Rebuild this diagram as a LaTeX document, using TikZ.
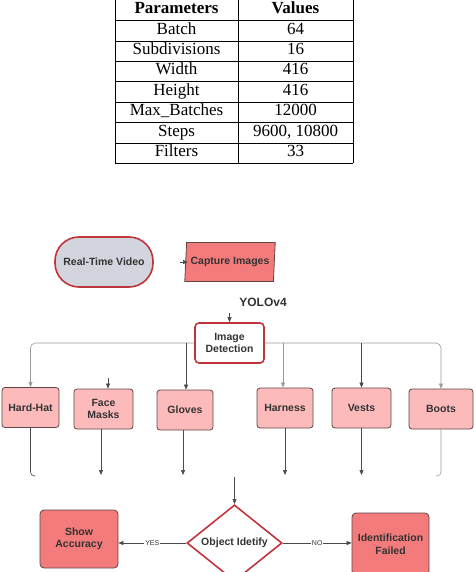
\documentclass[tikz,border=0pt]{standalone}
\usepackage{fontspec}
\setmainfont{Liberation Serif}
\setsansfont{Liberation Sans}
\usetikzlibrary{shapes.geometric,arrows.meta,backgrounds}
\definecolor{redborder}{HTML}{C0343C}
\definecolor{videofill}{HTML}{D2D5DD}
\definecolor{salmon}{HTML}{F47B7B}
\definecolor{pinkfill}{HTML}{FDBABB}
\definecolor{darkborder}{HTML}{5E4646}
\definecolor{textcol}{HTML}{333333}
\definecolor{busgray}{HTML}{9A9A9A}
\definecolor{arrowgray}{HTML}{4A4A4A}
\tikzset{
  tabtext/.style={anchor=base, font=\fontsize{17}{17}\selectfont, inner sep=0pt},
  tabhead/.style={tabtext, font=\fontsize{17}{17}\selectfont\bfseries},
  flowtext/.style={font=\sffamily\bfseries\fontsize{10.5}{12.5}\selectfont, text=textcol, align=center},
  itembox/.style={flowtext, draw=darkborder, line width=0.8pt, fill=pinkfill, rounded corners=3pt, minimum height=40pt, inner sep=1pt},
  resultbox/.style={flowtext, draw=darkborder, line width=0.8pt, fill=salmon, rounded corners=4pt, inner sep=1pt},
  arr/.style={draw=arrowgray, line width=0.6pt, -{Triangle[length=5pt,width=4pt]}},
  busline/.style={draw=busgray, line width=0.6pt},
  lbl/.style={font=\sffamily\fontsize{7}{7}\selectfont, text=textcol, fill=white, inner sep=1pt}
}
\begin{document}
\begin{tikzpicture}[x=1pt,y=-1pt]
\useasboundingbox (0,0) rectangle (474,572);
% ---------------- table ----------------
\foreach \yy in {20,41,61,81,102,122,143,163} \draw[line width=0.8pt] (115,\yy) -- (353,\yy);
\foreach \xx in {115,238,353} \draw[line width=0.8pt] (\xx,0) -- (\xx,163);
\node[tabhead] (h1) at (176.5,14) {Parameters};
\node[tabhead] (h2) at (295.5,14) {Values};
\node[tabtext] (p1) at (176.5,35) {Batch};
\node[tabtext] (v1) at (295.5,35) {64};
\node[tabtext] (p2) at (176.5,55) {Subdivisions};
\node[tabtext] (v2) at (295.5,55) {16};
\node[tabtext] (p3) at (176.5,75) {Width};
\node[tabtext] (v3) at (295.5,75) {416};
\node[tabtext] (p4) at (176.5,96) {Height};
\node[tabtext] (v4) at (295.5,96) {416};
\node[tabtext] (p5) at (176.5,116) {Max\_Batches};
\node[tabtext] (v5) at (295.5,116) {12000};
\node[tabtext] (p6) at (176.5,137) {Steps};
\node[tabtext] (v6) at (295.5,137) {9600, 10800};
\node[tabtext] (p7) at (176.5,157) {Filters};
\node[tabtext] (v7) at (295.5,157) {33};
% ---------------- flowchart ----------------
\node[flowtext, draw=redborder, line width=1.6pt, fill=videofill, rounded corners=24pt, minimum width=98pt, minimum height=50pt] (rtv) at (104,262) {Real-Time Video};
\node[flowtext, draw=darkborder, line width=0.8pt, fill=salmon, trapezium, trapezium left angle=80, trapezium right angle=100, trapezium stretches=true, minimum width=91pt, minimum height=39pt, inner sep=0pt] (cap) at (230,262) {Capture Images};
\coordinate (capin) at (180,262);
\draw[arr] (capin) -- (188,262);
\node[font=\sffamily\bfseries\fontsize{12}{12}\selectfont, text=textcol] (yolo) at (263,302) {YOLOv4};
\node[flowtext, draw=redborder, line width=1.6pt, fill=white, rounded corners=4pt, minimum width=69pt, minimum height=40pt, inner sep=1pt] (det) at (229.5,343) {Image\\Detection};
\coordinate (detin) at (229.5,313);
\draw[arr] (detin) -- (det.north);

\node[itembox, minimum width=57pt] (hh) at (30.5,407.5) {Hard-Hat};
\node[itembox, minimum width=59pt] (fm) at (103.5,409) {Face\\Masks};
\node[itembox, minimum width=56pt] (gl) at (185,410) {Gloves};
\node[itembox, minimum width=56pt] (hn) at (285,408) {Harness};
\node[itembox, minimum width=59pt] (vs) at (361.5,408) {Vests};
\node[itembox, minimum width=64pt] (bt) at (441,409) {Boots};

\begin{pgfonlayer}{background}
\draw[busline, rounded corners=5pt, {Triangle[length=5pt,width=4pt]}-{Triangle[length=5pt,width=4pt]}] (hh.north) |- (det.center) -| (bt.north);
\end{pgfonlayer}
\draw[arr] ([xshift=1pt]gl.north |- det.center) -- ([xshift=1pt]gl.north);
\draw[arr, draw=busgray] ([xshift=-2pt]hn.north |- det.center) -- ([xshift=-2pt]hn.north);
\draw[arr] (vs.north |- det.center) -- (vs.north);
\coordinate (fmin) at (108,378);
\draw[arr] (fmin) -- (fmin |- fm.north);

% bottom
\coordinate (hhend) at (35,476);
\draw[busline, draw=arrowgray, rounded corners=4pt] (hh.south) |- (hhend);
\coordinate (btend) at (436,476);
\draw[busline, rounded corners=4pt] (bt.south) |- (btend);
\draw[arr] ([xshift=-2.5pt]fm.south) -- ([xshift=-2.5pt]fm.south |- 0,475);
\draw[arr] ([xshift=-2pt]gl.south) -- ([xshift=-2pt]gl.south |- 0,475);
\draw[arr] (hn.south) -- (hn.south |- 0,475);
\draw[arr] (vs.south) -- (vs.south |- 0,475);

\node[flowtext, draw=redborder, line width=1.6pt, fill=white, diamond, minimum width=95pt, minimum height=54pt, inner sep=0pt] (obj) at (234.5,543) {Object Idetify};
\coordinate (objin) at (234.5,477);
\draw[arr] (objin) -- (obj.north);

\node[resultbox, minimum width=78pt, minimum height=58pt] (acc) at (79,539) {Show\\Accuracy};
\node[resultbox, minimum width=77pt, minimum height=62pt] (fail) at (390.5,544) {Identification\\Failed};

\draw[arr] (obj.west) -- node[lbl] {YES} (obj.west -| acc.east);
\draw[arr] (obj.east) -- node[lbl] {NO} (obj.east -| fail.west);
\end{tikzpicture}
\end{document}
